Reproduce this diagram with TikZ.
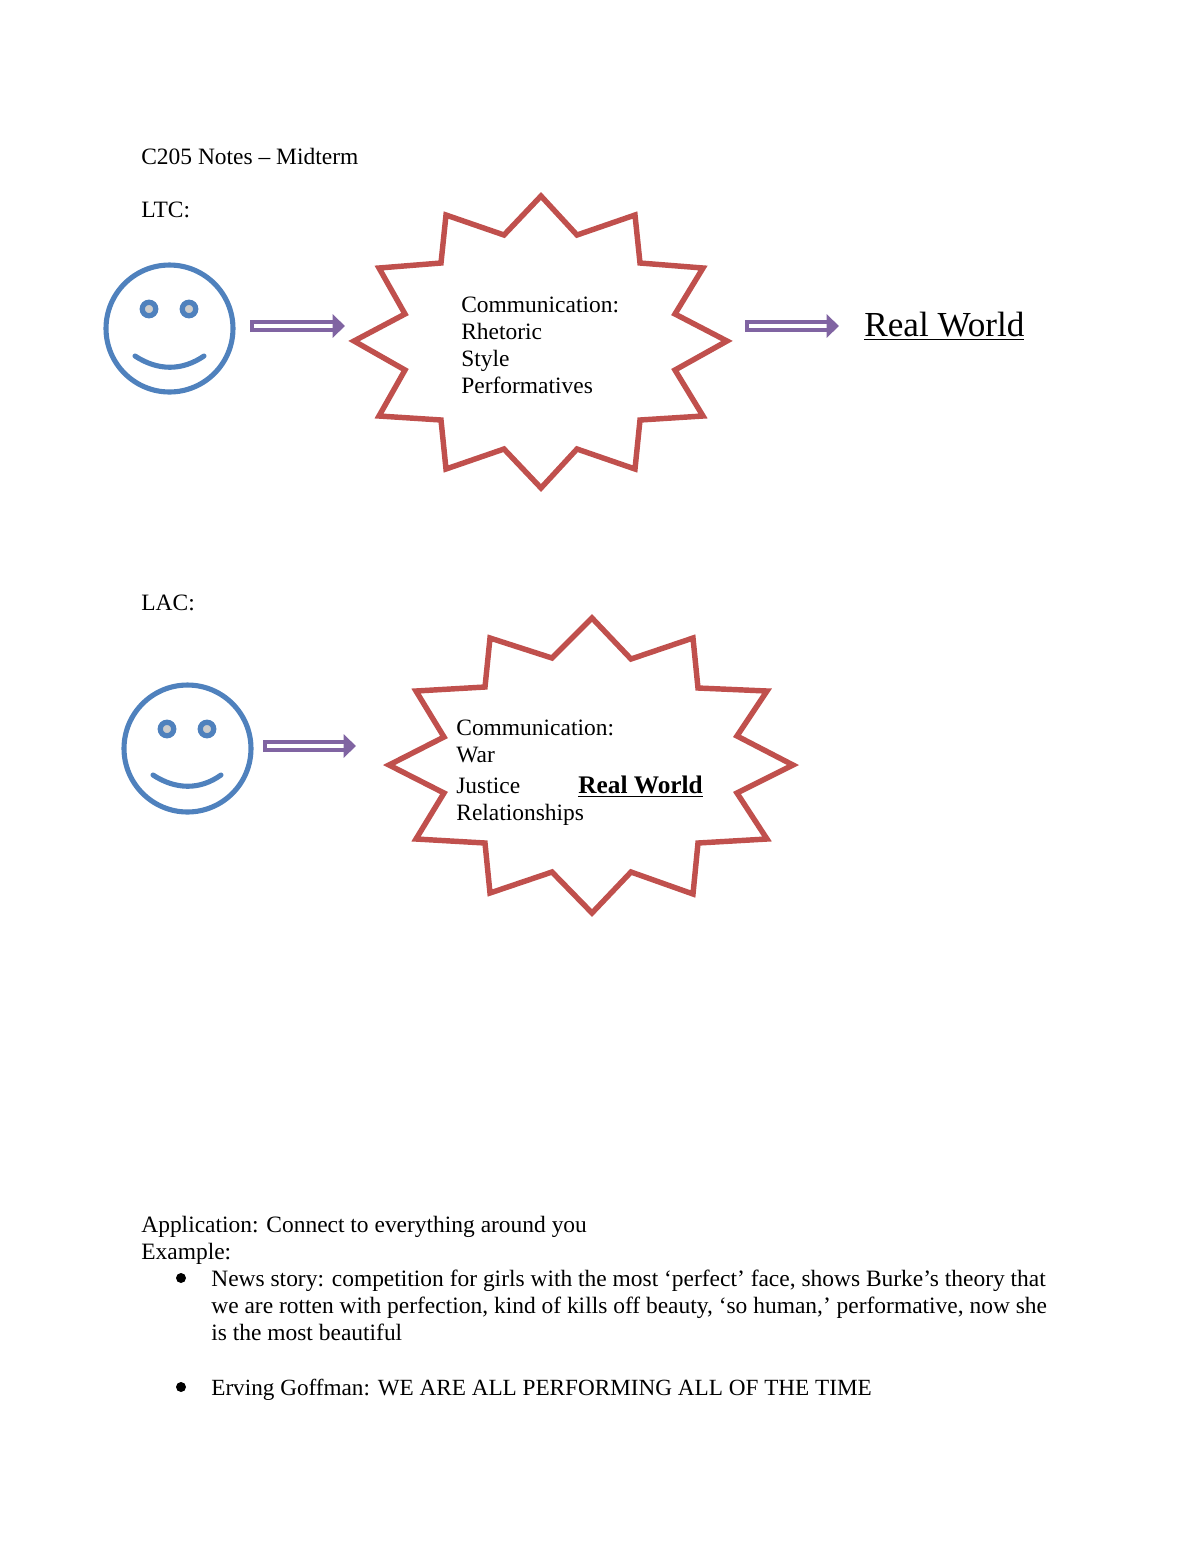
\documentclass[tikz,border=0pt]{standalone}
\usepackage{fontspec}
\setmainfont{Liberation Serif}
\usetikzlibrary{arrows.meta,calc,positioning}
\definecolor{faceblue}{HTML}{4F81BD}
\definecolor{burstred}{HTML}{C0504D}
\definecolor{arrowpurple}{HTML}{8064A2}
\tikzset{
  txt/.style={anchor=base west,inner sep=0pt,font=\fontsize{13.35}{16}\selectfont},
  bigtxt/.style={anchor=base west,inner sep=0pt,font=\fontsize{20}{24}\selectfont},
  facering/.style={draw=faceblue,circle,line width=2.9pt,minimum size=2.54cm,inner sep=0pt},
  eyering/.style={draw=faceblue,fill=gray!40,circle,line width=3pt,minimum size=0.27cm,inner sep=0pt},
  smile/.style={draw=faceblue,line width=2.9pt,line cap=round},
  burst/.style={draw=burstred,line width=3.1pt,line join=miter,fill=white},
  hollowarrow/.style={draw=arrowpurple,double=white,line width=2.5pt,double distance=2pt,{Bar[width=7pt,line width=2.5pt]}-{Triangle[length=7pt,width=13pt]}},
  bullet/.style={fill=black,circle,inner sep=0pt,minimum size=0.2cm}
}
\begin{document}
\begin{tikzpicture}[x=0.02cm,y=-0.02cm]
  \useasboundingbox (0,0) rectangle (1200,1553);
  % heading
  \node[txt] (title) at (141,164) {C205 Notes -- Midterm};
  \node[txt] (ltc) at (141,217) {LTC:};
  \node[txt] (lac) at (141,610) {LAC:};
  % first face
  \node[facering] (face1) at (169.5,328.5) {};
  \node[eyering] (eye1a) at (149,309) {};
  \node[eyering] (eye1b) at (189,309) {};
  \draw[smile] (135,356) .. controls (158,371) and (182,371) .. (204,356);
  % first burst
  \draw[burst] (541,196) -- (577,235) -- (635,215) -- (640,263) -- (703,268) -- (675,314)
    -- (727,341) -- (675,370) -- (703,416) -- (640,420) -- (635,469) -- (577,449)
    -- (541,488) -- (504,449) -- (446,469) -- (441,420) -- (379,416) -- (405,370)
    -- (354,341) -- (405,314) -- (379,268) -- (441,263) -- (446,215) -- (504,235) -- cycle;
  \node[txt] (comm1) at (461,312) {Communication:};
  \node[txt] (rhet) at (461,339) {Rhetoric};
  \node[txt] (style) at (461,366) {Style};
  \node[txt] (perf) at (461,393) {Performatives};
  \node[bigtxt] (real1) at (864,336) {\underline{Real World}};
  % first row arrows
  \coordinate (a1s) at (250,326);
  \coordinate (a1e) at (345,326);
  \coordinate (a2s) at (745,326);
  \coordinate (a2e) at (839,326);
  \draw[hollowarrow] (a1s) -- (a1e);
  \draw[hollowarrow] (a2s) -- (a2e);
  % second face
  \node[facering] (face2) at (187.5,748.5) {};
  \node[eyering] (eye2a) at (167,729) {};
  \node[eyering] (eye2b) at (207,729) {};
  \draw[smile] (153,775) .. controls (176,790) and (200,790) .. (221,775);
  % second burst
  \draw[burst] (592,618) -- (631,659) -- (693,638) -- (698,688) -- (767,691) -- (737,736)
    -- (793,765) -- (737,793) -- (767,839) -- (698,843) -- (693,894) -- (631,872)
    -- (592,913) -- (552,872) -- (490,893) -- (485,843) -- (416,839) -- (444,793)
    -- (389,765) -- (444,737) -- (416,691) -- (485,687) -- (490,638) -- (552,658) -- cycle;
  \node[txt] (comm2) at (456,735) {Communication:};
  \node[txt] (war) at (456,762) {War};
  \node[txt] (just) at (456,793) {Justice};
  \node[txt] (rel) at (456,820) {Relationships};
  \node[txt,font=\fontsize{14.4}{16}\selectfont] (real2) at (578,793) {\underline{\textbf{Real World}}};
  \coordinate (a3s) at (263,746);
  \coordinate (a3e) at (356,746);
  \draw[hollowarrow] (a3s) -- (a3e);
  % notes
  \node[txt] (appl) at (141,1232) {Application: Connect to everything around you};
  \node[txt] (exam) at (141,1259) {Example:};
  \node[bullet] (b1) at (181,1278) {};
  \node[txt] (news1) at (211,1286) {News story: competition for girls with the most ‘perfect’ face, shows Burke’s theory that};
  \node[txt] (news2) at (211,1313) {we are rotten with perfection, kind of kills off beauty, ‘so human,’ performative, now she};
  \node[txt] (news3) at (211,1340) {is the most beautiful};
  \node[bullet] (b2) at (181,1387) {};
  \node[txt,font=\fontsize{13.2}{16}\selectfont] (erv) at (211,1395) {Erving Goffman: WE ARE ALL PERFORMING ALL OF THE TIME};
\end{tikzpicture}
\end{document}
